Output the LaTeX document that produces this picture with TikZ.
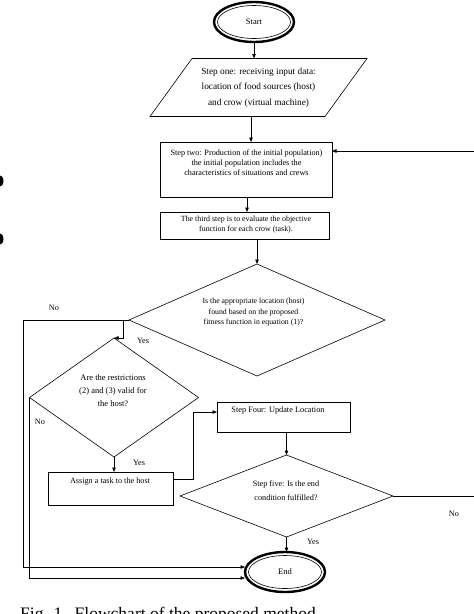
\documentclass[tikz,border=0pt]{standalone}
\usepackage{fontspec}
\setmainfont{Liberation Serif}
\usetikzlibrary{arrows.meta,shapes.geometric,calc}
\begin{document}
\begin{tikzpicture}[x=1pt,y=-1pt,
  line/.style={line width=0.6pt, draw=black},
  arr/.style={line, -{Triangle[length=4.5pt,width=3.5pt]}},
  boxs/.style={rectangle, draw=black, line width=0.6pt, inner sep=0pt, outer sep=0pt},
  dia/.style={diamond, draw=black, line width=0.6pt, inner sep=0pt, outer sep=0pt},
  term/.style={ellipse, draw=black, line width=2.4pt, inner sep=0pt, outer sep=0pt,
    minimum width=80pt, minimum height=40pt, font=\fontsize{8.5}{10}\selectfont},
  txt/.style={inner sep=0pt, outer sep=0pt, align=center},
  lbl/.style={inner sep=0pt, font=\fontsize{8.2}{10}\selectfont}]
\useasboundingbox (0,0) rectangle (474,614);
\coordinate (xno) at (23,0);
\coordinate (xr) at (495,0);

% margin blobs
\fill (-1,181) ellipse [x radius=4.5, y radius=6];
\fill (-1,239) ellipse [x radius=4.5, y radius=6];

% terminals
\node[term] (start) at (254,22) {Start};
\draw[line] (start.center) ellipse [x radius=36.5, y radius=16.5];
\node[term] (end) at (285,572) {End};
\draw[line] (end.center) ellipse [x radius=36.5, y radius=16.5];

% step one (parallelogram)
\node[txt, minimum width=217pt, minimum height=58pt,
  font=\fontsize{9.3}{15.5}\selectfont] (para) at (258.5,87.5)
  {Step one: receiving input data:\\ location of food sources (host)\\ and crow (virtual machine)};
\draw[line] (para.south west) -- ([xshift=42pt]para.north west) -- (para.north east)
  -- ([xshift=-42pt]para.south east) -- cycle;

% step two
\node[boxs, minimum width=172pt, minimum height=55pt] (s2) at (246,169.5) {};
\node[txt, font=\fontsize{8.2}{10}\selectfont] (s2t) at (246.5,163)
  {Step two: Production of the initial population)\\ the initial population includes the\\ characteristics of situations and crews};

% step three
\node[boxs, minimum width=169pt, minimum height=27pt] (s3) at (244.5,225.5) {};
\node[txt, font=\fontsize{7.9}{10}\selectfont] (s3t) at (246,224.5)
  {The third step is to evaluate the objective\\ function for each crow (task).};

% decision 1
\node[dia, minimum width=256pt, minimum height=112pt] (d1) at (257,320) {};
\node[txt, font=\fontsize{7.8}{10.5}\selectfont] (d1t) at (253.5,312.5)
  {Is the appropriate location (host)\\ found based on the proposed\\ fitness function in equation (1)?};

% decision 2
\node[dia, minimum width=169pt, minimum height=119pt] (d2) at (114,397.5) {};
\node[txt, font=\fontsize{8.5}{13}\selectfont] (d2t) at (113,391)
  {Are the restrictions\\ (2) and (3) valid for\\ the host?};

% assign
\node[boxs, minimum width=125pt, minimum height=33pt] (as) at (110.5,488.5) {};
\node[txt, font=\fontsize{8.2}{10}\selectfont] (ast) at (110,482) {Assign a task to the host};

% step four
\node[boxs, minimum width=133pt, minimum height=30pt] (s4) at (283.5,417) {};
\node[txt, font=\fontsize{8.3}{10}\selectfont] (s4t) at (278,410) {Step Four: Update Location};

% decision 3
\node[dia, minimum width=213pt, minimum height=82pt] (d3) at (286.5,496) {};
\node[txt, font=\fontsize{8.2}{14}\selectfont] (d3t) at (286,491)
  {Step five: Is the end\\ condition fulfilled?};

% connectors
\draw[arr] (start.south) -- (start.south |- para.north);
\draw[arr] ([xshift=-7.5pt]para.south) -- ([xshift=-7.5pt]para.south |- s2.north);
\draw[arr] ([xshift=1pt]s2.south) -- ([xshift=1pt]s2.south |- s3.north);
\draw[arr] (s3.south -| d1.north) -- (d1.north);
\draw[arr] (d1.west) -- (d1.west -| xno) |- ($(end.west)+(0,-5)$);
\draw[arr] (d1.west) -- ++(-6,0) |- (d2.north);
\draw[arr] (d2.west) |- ($(end.west)+(0,6)$);
\draw[arr] (d2.south) -- (d2.south |- as.north);
\draw[arr] ([yshift=9.5pt]as.east) -- ++(20,0) |- ([yshift=5pt]s4.west);
\draw[arr] (s4.south -| d3.north) -- (d3.north);
\draw[arr] (d3.south) -- (d3.south |- end.north);
\draw[arr] (d3.east) -- (d3.east -| xr) |- ([yshift=18.5pt]s2.east);

% labels
\node[lbl] (lno1) at (54,308) {No};
\node[lbl] (lyes1) at (143,341) {Yes};
\node[lbl] (lno2) at (40,422) {No};
\node[lbl] (lyes2) at (139,463) {Yes};
\node[lbl] (lyes3) at (313,542) {Yes};
\node[lbl] (lno3) at (454,514) {No};

% caption (cut off by the page edge)
\node[anchor=base west, inner sep=0pt, font=\fontsize{17.5}{20}\selectfont] (cap) at (20,619.5)
  {Fig. 1.\hspace{0.45em}Flowchart of the proposed method};
\end{tikzpicture}
\end{document}
